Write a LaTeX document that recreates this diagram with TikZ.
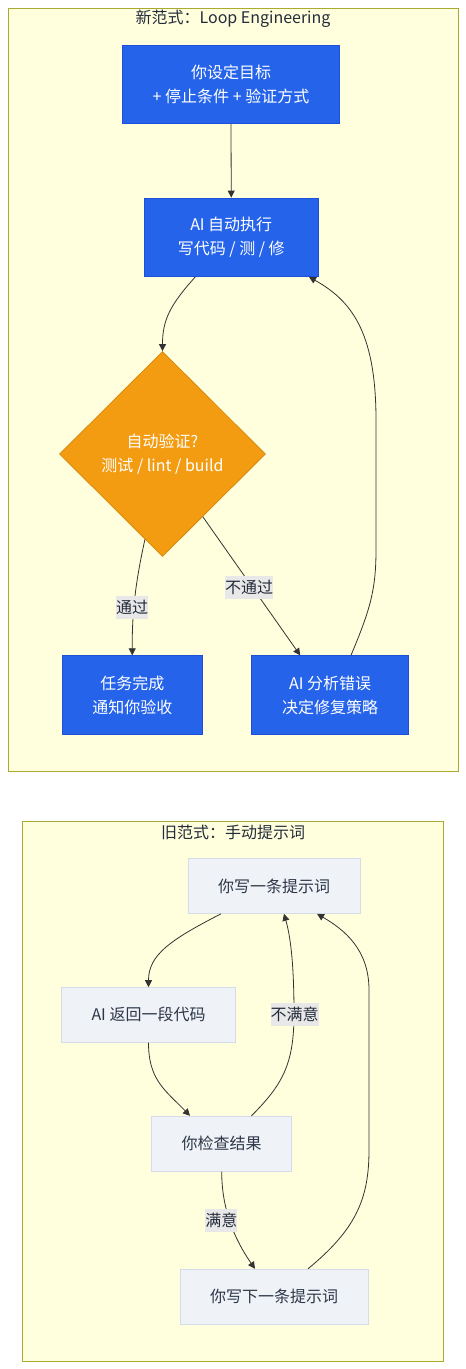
\documentclass[tikz,border=0pt]{standalone}
\usepackage{fontspec}
\setmainfont{Noto Sans CJK SC}
\usetikzlibrary{arrows.meta,shapes.geometric,calc}
\definecolor{clfill}{HTML}{FFFFDE}
\definecolor{clborder}{HTML}{AAAA33}
\definecolor{blue}{HTML}{2563EB}
\definecolor{blueb}{HTML}{1E4FD8}
\definecolor{orange}{HTML}{F39C12}
\definecolor{orangeb}{HTML}{D68910}
\definecolor{light}{HTML}{EFF3F8}
\definecolor{lightb}{HTML}{D3DCE8}
\definecolor{darktext}{HTML}{2D3748}
\definecolor{edge}{HTML}{333333}
\definecolor{lblbg}{HTML}{E8E8E8}
\tikzset{
  cluster/.style={draw=clborder, fill=clfill, line width=1pt},
  bluebox/.style={draw=blueb, fill=blue, text=white, align=center, inner sep=0pt, line width=0.8pt},
  lightbox/.style={draw=lightb, fill=light, text=darktext, align=center, inner sep=0pt, line width=1pt},
  decision/.style={diamond, draw=orangeb, fill=orange, text=white, align=center, inner sep=0pt, line width=0.8pt, minimum width=206pt, minimum height=205pt},
  conn/.style={draw=edge, line width=0.8pt, -{Triangle[length=7pt,width=7pt]}},
  lbl/.style={fill=lblbg, text=darktext!80!black, inner xsep=0pt, inner ysep=0pt, minimum height=23pt},
  ttl/.style={text=darktext!80!black}
}
\begin{document}
\begin{tikzpicture}[x=1pt,y=-1pt,font=\fontsize{16}{24}\selectfont]
\useasboundingbox (0,0) rectangle (466,1369);
\fill[white] (0,0) rectangle (466,1369);
% cluster 1
\draw[cluster] (8,8) rectangle (458.5,771);
\node[ttl] (t1) at (233,19) {新范式：Loop Engineering};
\node[bluebox, minimum width=217pt, minimum height=78.5pt] (A) at (231,84.25) {你设定目标\\+ 停止条件 + 验证方式};
\node[bluebox, minimum width=174.5pt, minimum height=78.5pt] (B) at (231.25,237.25) {AI 自动执行\\写代码 / 测 / 修};
\node[decision] (V) at (162.5,454) {自动验证?\\测试 / lint / build};
\node[bluebox, minimum width=140.5pt, minimum height=78.6pt] (C) at (132.25,695) {任务完成\\通知你验收};
\node[bluebox, minimum width=157pt, minimum height=78.6pt] (D) at (330.2,695) {AI 分析错误\\决定修复策略};

\draw[conn] (A.south) -- (B.north);
\draw[conn] ([xshift=-36pt]B.south) .. controls (170,305) and (162.5,320) .. (V.north);
\draw[conn] ($(V.west)!0.83!(V.south)$) .. controls (136,580) and (132,610) .. (C.north);
\draw[conn] ($(V.south)!0.39!(V.east)$) -- ([xshift=-30pt]D.north);
\draw[conn] ([xshift=20.8pt]D.north) .. controls (370,610) and (376,590) .. (376,550) -- (376,420) .. controls (376,330) and (350,300) .. ([xshift=77.75pt]B.south);
\node[lbl] (l1) at (132,607) {通过};
\node[lbl] (l2) at (249,587.7) {不通过};

% cluster 2
\draw[cluster] (22.3,821) rectangle (443.3,1361);
\node[ttl] (t2) at (233,832.3) {旧范式：手动提示词};
\node[lightbox, minimum width=172pt, minimum height=54.6pt] (P1) at (274,886) {你写一条提示词};
\node[lightbox, minimum width=174.4pt, minimum height=54.3pt] (P2) at (148.5,1014.85) {AI 返回一段代码};
\node[lightbox, minimum width=140pt, minimum height=54.7pt] (P3) at (221.7,1143.65) {你检查结果};
\node[lightbox, minimum width=188pt, minimum height=54.7pt] (P4) at (274,1296.65) {你写下一条提示词};

\draw[conn] ([xshift=-53pt]P1.south) .. controls (170,940) and (148.5,955) .. (P2.north);
\draw[conn] (P2.south) .. controls (148.5,1080) and (165,1090) .. ([xshift=-31.7pt]P3.north);
\draw[conn] ([xshift=29.8pt]P3.north) .. controls (282,1085) and (294,1065) .. (294,1014) .. controls (294,960) and (290,935) .. ([xshift=10pt]P1.south);
\draw[conn] (P3.south) .. controls (221.7,1210) and (235,1240) .. ([xshift=-19pt]P4.north);
\draw[conn] ([xshift=34pt]P4.north) .. controls (355,1230) and (369,1200) .. (369,1150) -- (369,990) .. controls (369,950) and (345,930) .. ([xshift=43pt]P1.south);
\node[lbl] (l3) at (294.5,1014.7) {不满意};
\node[lbl] (l4) at (221.3,1220.3) {满意};
\end{tikzpicture}
\end{document}
